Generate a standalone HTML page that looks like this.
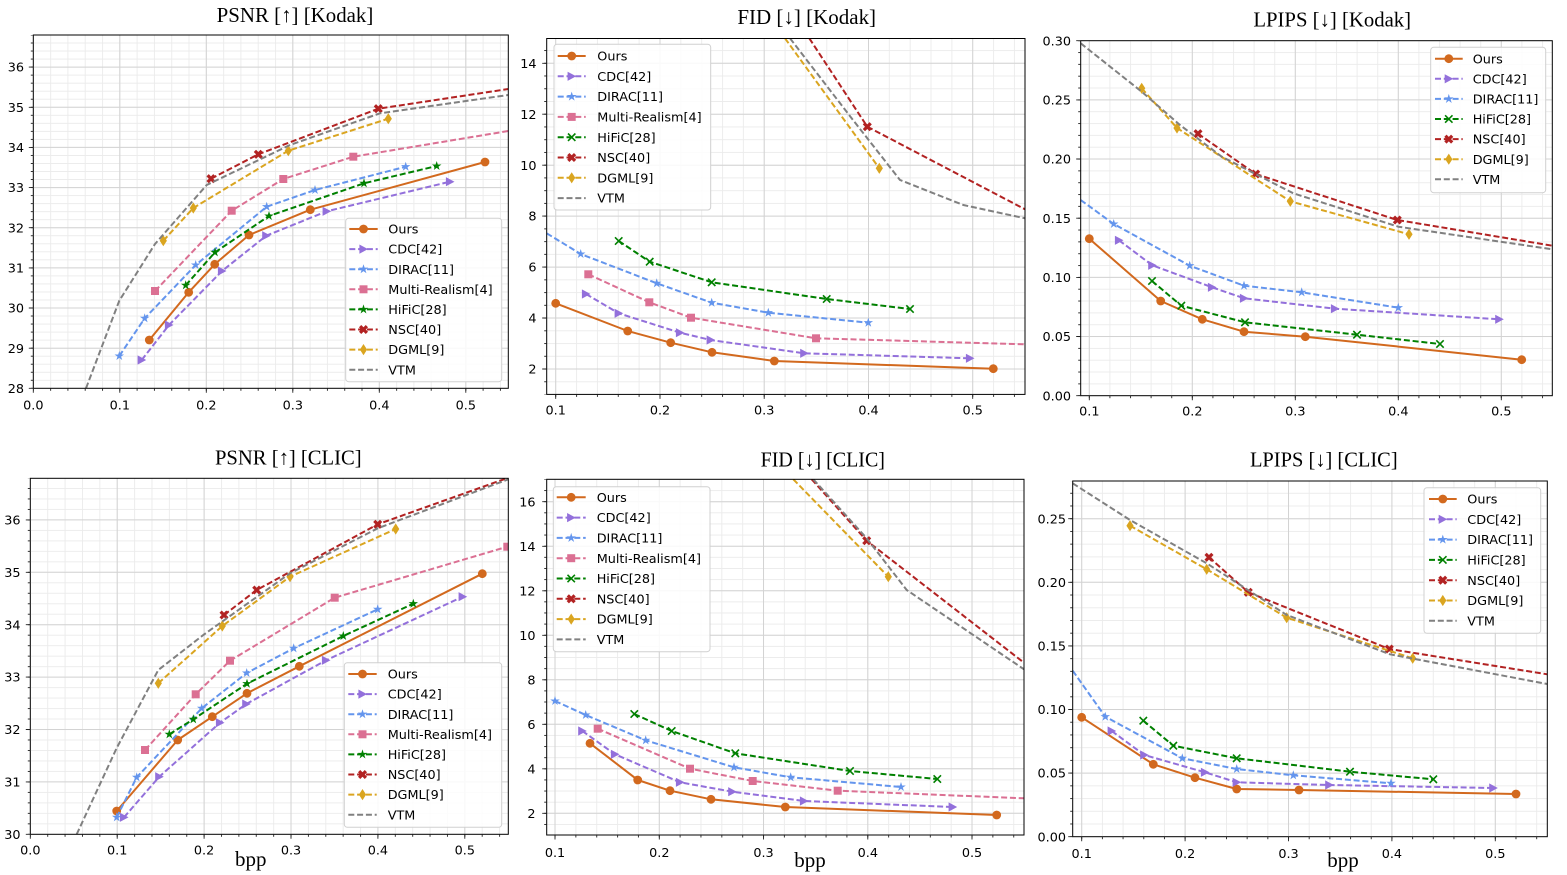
<!DOCTYPE html>
<html><head><meta charset="utf-8">
<style>
html,body{margin:0;padding:0;background:#fff;}
svg{display:block}
.t{font-family:"DejaVu Sans","Liberation Sans",sans-serif;font-size:12.8px;fill:#000}
.ti{font-family:"Liberation Serif","DejaVu Serif",serif;font-size:21px;fill:#000}
.xl{font-family:"Liberation Serif","DejaVu Serif",serif;font-size:21px;fill:#000}
.mg{fill:none;stroke:#d3d3d3;stroke-width:1}
.fr{fill:none;stroke:#000;stroke-width:1}
.tk{fill:none;stroke:#222;stroke-width:0.9}
.s{fill:none;stroke-width:2;stroke-linejoin:round}
.d{stroke-dasharray:6 2.8}
.lb{fill:#fff;fill-opacity:0.85;stroke:#d0d0d0;stroke-width:1}
</style></head><body>
<svg width="1567" height="875" viewBox="0 0 1567 875" xmlns="http://www.w3.org/2000/svg">
<defs>
<circle id="mo" r="4.4" fill="#D2691E"/>
<polygon id="mc" points="4.5,0 -4.1,-4.6 -4.1,4.6" fill="#9370DB"/>
<polygon id="md" points="0,-5 1.12,-1.54 4.76,-1.54 1.81,0.59 2.94,4.05 0,1.9 -2.94,4.05 -1.81,0.59 -4.76,-1.54 -1.12,-1.54" fill="#6495ED"/>
<rect id="mm" x="-4" y="-4" width="8" height="8" fill="#DB7093"/>
<polygon id="mh" points="0,-5 1.12,-1.54 4.76,-1.54 1.81,0.59 2.94,4.05 0,1.9 -2.94,4.05 -1.81,0.59 -4.76,-1.54 -1.12,-1.54" fill="#008000"/>
<path id="mx" d="M-3.7,-3.7L3.7,3.7M-3.7,3.7L3.7,-3.7" stroke="#008000" stroke-width="1.6" fill="none"/>
<polygon id="mn" transform="rotate(45)" points="-1.6,-4.8 1.6,-4.8 1.6,-1.6 4.8,-1.6 4.8,1.6 1.6,1.6 1.6,4.8 -1.6,4.8 -1.6,1.6 -4.8,1.6 -4.8,-1.6 -1.6,-1.6" fill="#B22222"/>
<polygon id="mg" points="0,-5.6 3.6,0 0,5.6 -3.6,0" fill="#DAA520"/>

<pattern id="g1" patternUnits="userSpaceOnUse" x="32.85" y="387.85" width="17.3" height="8.03"><rect width="0.9" height="8.03" fill="#ebebeb"/><rect width="17.3" height="0.9" fill="#ebebeb"/></pattern>
<pattern id="a1" patternUnits="userSpaceOnUse" x="32.85" y="0" width="17.3" height="900"><rect width="0.9" height="900" fill="#222"/></pattern>
<pattern id="b1" patternUnits="userSpaceOnUse" x="0" y="387.85" width="1600" height="8.03"><rect width="1600" height="0.9" fill="#222"/></pattern>

<pattern id="g2" patternUnits="userSpaceOnUse" x="555.25" y="368.55" width="20.85" height="12.74"><rect width="0.9" height="12.74" fill="#ebebeb"/><rect width="20.85" height="0.9" fill="#ebebeb"/></pattern>
<pattern id="a2" patternUnits="userSpaceOnUse" x="555.25" y="0" width="20.85" height="900"><rect width="0.9" height="900" fill="#222"/></pattern>
<pattern id="b2" patternUnits="userSpaceOnUse" x="0" y="368.55" width="1600" height="12.74"><rect width="1600" height="0.9" fill="#222"/></pattern>

<pattern id="g3" patternUnits="userSpaceOnUse" x="1088.85" y="395.25" width="20.6" height="11.834"><rect width="0.9" height="11.834" fill="#ebebeb"/><rect width="20.6" height="0.9" fill="#ebebeb"/></pattern>
<pattern id="a3" patternUnits="userSpaceOnUse" x="1088.85" y="0" width="20.6" height="900"><rect width="0.9" height="900" fill="#222"/></pattern>
<pattern id="b3" patternUnits="userSpaceOnUse" x="0" y="395.25" width="1600" height="11.834"><rect width="1600" height="0.9" fill="#222"/></pattern>

<pattern id="g4" patternUnits="userSpaceOnUse" x="29.85" y="833.85" width="17.38" height="10.48"><rect width="0.9" height="10.48" fill="#ebebeb"/><rect width="17.38" height="0.9" fill="#ebebeb"/></pattern>
<pattern id="a4" patternUnits="userSpaceOnUse" x="29.85" y="0" width="17.38" height="900"><rect width="0.9" height="900" fill="#222"/></pattern>
<pattern id="b4" patternUnits="userSpaceOnUse" x="0" y="833.85" width="1600" height="10.48"><rect width="1600" height="0.9" fill="#222"/></pattern>

<pattern id="g5" patternUnits="userSpaceOnUse" x="554.55" y="812.85" width="20.85" height="11.13"><rect width="0.9" height="11.13" fill="#ebebeb"/><rect width="20.85" height="0.9" fill="#ebebeb"/></pattern>
<pattern id="a5" patternUnits="userSpaceOnUse" x="554.55" y="0" width="20.85" height="900"><rect width="0.9" height="900" fill="#222"/></pattern>
<pattern id="b5" patternUnits="userSpaceOnUse" x="0" y="812.85" width="1600" height="11.13"><rect width="1600" height="0.9" fill="#222"/></pattern>

<pattern id="g6" patternUnits="userSpaceOnUse" x="1081.25" y="836.25" width="20.68" height="12.72"><rect width="0.9" height="12.72" fill="#ebebeb"/><rect width="20.68" height="0.9" fill="#ebebeb"/></pattern>
<pattern id="a6" patternUnits="userSpaceOnUse" x="1081.25" y="0" width="20.68" height="900"><rect width="0.9" height="900" fill="#222"/></pattern>
<pattern id="b6" patternUnits="userSpaceOnUse" x="0" y="836.25" width="1600" height="12.72"><rect width="1600" height="0.9" fill="#222"/></pattern>

<clipPath id="c1"><rect x="33.3" y="35" width="475" height="353.3"/></clipPath>
<clipPath id="c2"><rect x="546.7" y="38.5" width="478.3" height="355.9"/></clipPath>
<clipPath id="c3"><rect x="1080.7" y="40.7" width="471.6" height="355"/></clipPath>
<clipPath id="c4"><rect x="30.3" y="478.3" width="478" height="356"/></clipPath>
<clipPath id="c5"><rect x="546.7" y="479.3" width="477.3" height="355.7"/></clipPath>
<clipPath id="c6"><rect x="1072.7" y="481" width="474.6" height="355.7"/></clipPath>
</defs>

<rect width="1567" height="875" fill="#fff"/>

<!-- ================= PANEL 1: PSNR Kodak ================= -->
<rect x="33.3" y="35" width="475" height="353.3" fill="url(#g1)"/>
<path class="mg" d="M119.8 35V388.3M206.3 35V388.3M292.8 35V388.3M379.3 35V388.3M465.8 35V388.3M33.3 348.2H508.3M33.3 308H508.3M33.3 267.9H508.3M33.3 227.7H508.3M33.3 187.6H508.3M33.3 147.4H508.3M33.3 107.3H508.3M33.3 67.1H508.3"/>
<g clip-path="url(#c1)">
<polyline class="s" stroke="#D2691E" points="149.3,340 188.7,292.3 214.7,264.3 249,235 310.3,209.7 485,162"/>
<use href="#mo" x="149.3" y="340"/><use href="#mo" x="188.7" y="292.3"/><use href="#mo" x="214.7" y="264.3"/><use href="#mo" x="249" y="235"/><use href="#mo" x="310.3" y="209.7"/><use href="#mo" x="485" y="162"/>
<polyline class="s d" stroke="#9370DB" points="141.7,360 169,325 222,271 266.3,235.7 326.7,211.3 450,181.7"/>
<use href="#mc" x="141.7" y="360"/><use href="#mc" x="169" y="325"/><use href="#mc" x="222" y="271"/><use href="#mc" x="266.3" y="235.7"/><use href="#mc" x="326.7" y="211.3"/><use href="#mc" x="450" y="181.7"/>
<polyline class="s d" stroke="#6495ED" points="119.3,356 144.7,318.3 195.7,265 266.7,206.7 315,190 405.7,166.7"/>
<use href="#md" x="119.3" y="356"/><use href="#md" x="144.7" y="318.3"/><use href="#md" x="195.7" y="265"/><use href="#md" x="266.7" y="206.7"/><use href="#md" x="315" y="190"/><use href="#md" x="405.7" y="166.7"/>
<polyline class="s d" stroke="#DB7093" points="155,291 231.7,210.7 283.3,179 353.3,156.7 508.3,131"/>
<use href="#mm" x="155" y="291"/><use href="#mm" x="231.7" y="210.7"/><use href="#mm" x="283.3" y="179"/><use href="#mm" x="353.3" y="156.7"/>
<polyline class="s d" stroke="#008000" points="185.7,285.3 215,252.3 269,216 364,183.3 436.7,166"/>
<use href="#mh" x="185.7" y="285.3"/><use href="#mh" x="215" y="252.3"/><use href="#mh" x="269" y="216"/><use href="#mh" x="364" y="183.3"/><use href="#mh" x="436.7" y="166"/>
<polyline class="s d" stroke="#B22222" points="211,178.7 258.3,154.3 378.3,108.7 508.3,89"/>
<use href="#mn" x="211" y="178.7"/><use href="#mn" x="258.3" y="154.3"/><use href="#mn" x="378.3" y="108.7"/>
<polyline class="s d" stroke="#DAA520" points="163.3,240.7 193.3,208 288.3,150.7 388.3,118.7"/>
<use href="#mg" x="163.3" y="240.7"/><use href="#mg" x="193.3" y="208"/><use href="#mg" x="288.3" y="150.7"/><use href="#mg" x="388.3" y="118.7"/>
<polyline class="s d" stroke="#808080" points="86,388.3 119.3,300.7 155,244 206.7,185 290,145 380,113.3 508.3,95"/>
</g>
<rect class="fr" x="33.3" y="35" width="475" height="353.3"/>
<rect x="33.3" y="388.3" width="475" height="2.5" fill="url(#a1)"/>
<rect x="30.8" y="35" width="2.5" height="353.3" fill="url(#b1)"/>
<path class="tk" d="M33.3 388.3v4.5M119.8 388.3v4.5M206.3 388.3v4.5M292.8 388.3v4.5M379.3 388.3v4.5M465.8 388.3v4.5M33.3 388.3h-4.5M33.3 348.2h-4.5M33.3 308h-4.5M33.3 267.9h-4.5M33.3 227.7h-4.5M33.3 187.6h-4.5M33.3 147.4h-4.5M33.3 107.3h-4.5M33.3 67.1h-4.5"/>
<g class="t" text-anchor="middle">
<text x="33.3" y="409.7">0.0</text><text x="119.8" y="409.7">0.1</text><text x="206.3" y="409.7">0.2</text><text x="292.8" y="409.7">0.3</text><text x="379.3" y="409.7">0.4</text><text x="465.8" y="409.7">0.5</text>
</g>
<g class="t" text-anchor="end">
<text x="24" y="392.9">28</text><text x="24" y="352.8">29</text><text x="24" y="312.6">30</text><text x="24" y="272.5">31</text><text x="24" y="232.3">32</text><text x="24" y="192.2">33</text><text x="24" y="152">34</text><text x="24" y="111.9">35</text><text x="24" y="71.7">36</text>
</g>
<rect class="lb" x="345.7" y="218.3" width="156" height="163.4" rx="3"/>
<line class="s" stroke="#D2691E" x1="349.3" x2="377.7" y1="229" y2="229"/><use href="#mo" x="363.5" y="229"/>
<line class="s d" stroke="#9370DB" x1="349.3" x2="377.7" y1="249.1" y2="249.1"/><use href="#mc" x="363.5" y="249.1"/>
<line class="s d" stroke="#6495ED" x1="349.3" x2="377.7" y1="269.2" y2="269.2"/><use href="#md" x="363.5" y="269.2"/>
<line class="s d" stroke="#DB7093" x1="349.3" x2="377.7" y1="289.3" y2="289.3"/><use href="#mm" x="363.5" y="289.3"/>
<line class="s d" stroke="#008000" x1="349.3" x2="377.7" y1="309.4" y2="309.4"/><use href="#mh" x="363.5" y="309.4"/>
<line class="s d" stroke="#B22222" x1="349.3" x2="377.7" y1="329.5" y2="329.5"/><use href="#mn" x="363.5" y="329.5"/>
<line class="s d" stroke="#DAA520" x1="349.3" x2="377.7" y1="349.6" y2="349.6"/><use href="#mg" x="363.5" y="349.6"/>
<line class="s d" stroke="#808080" x1="349.3" x2="377.7" y1="369.7" y2="369.7"/>
<g class="t">
<text x="388.3" y="233.6">Ours</text><text x="388.3" y="253.7">CDC[42]</text><text x="388.3" y="273.8">DIRAC[11]</text><text x="388.3" y="293.9">Multi-Realism[4]</text><text x="388.3" y="314">HiFiC[28]</text><text x="388.3" y="334.1">NSC[40]</text><text x="388.3" y="354.2">DGML[9]</text><text x="388.3" y="374.3">VTM</text>
</g>
<text class="ti" x="295" y="22" text-anchor="middle" textLength="156.7" lengthAdjust="spacingAndGlyphs">PSNR [↑] [Kodak]</text>

<!-- ================= PANEL 2: FID Kodak ================= -->
<rect x="546.7" y="38.5" width="478.3" height="355.9" fill="url(#g2)"/>
<path class="mg" d="M555.7 38.5V394.4M660 38.5V394.4M764.2 38.5V394.4M868.5 38.5V394.4M972.7 38.5V394.4M546.7 369H1025M546.7 318H1025M546.7 267.1H1025M546.7 216.1H1025M546.7 165.2H1025M546.7 114.2H1025M546.7 63.3H1025"/>
<g clip-path="url(#c2)">
<polyline class="s" stroke="#D2691E" points="555.7,303.3 627.7,331 670.7,342.7 712,352.3 774.3,361 993.3,368.7"/>
<use href="#mo" x="555.7" y="303.3"/><use href="#mo" x="627.7" y="331"/><use href="#mo" x="670.7" y="342.7"/><use href="#mo" x="712" y="352.3"/><use href="#mo" x="774.3" y="361"/><use href="#mo" x="993.3" y="368.7"/>
<polyline class="s d" stroke="#9370DB" points="586,294 618.7,313.3 680,332.7 710.7,340 804.3,353.3 970,358.3"/>
<use href="#mc" x="586" y="294"/><use href="#mc" x="618.7" y="313.3"/><use href="#mc" x="680" y="332.7"/><use href="#mc" x="710.7" y="340"/><use href="#mc" x="804.3" y="353.3"/><use href="#mc" x="970" y="358.3"/>
<polyline class="s d" stroke="#6495ED" points="546.7,233.3 580.7,254 656.7,283.3 711.7,302.7 768.3,312.7 868.3,322.7"/>
<use href="#md" x="580.7" y="254"/><use href="#md" x="656.7" y="283.3"/><use href="#md" x="711.7" y="302.7"/><use href="#md" x="768.3" y="312.7"/><use href="#md" x="868.3" y="322.7"/>
<polyline class="s d" stroke="#DB7093" points="588.3,274.3 649.3,302.3 691,317.7 816,338.3 1025,344.3"/>
<use href="#mm" x="588.3" y="274.3"/><use href="#mm" x="649.3" y="302.3"/><use href="#mm" x="691" y="317.7"/><use href="#mm" x="816" y="338.3"/>
<polyline class="s d" stroke="#008000" points="618.7,241 649.7,261.7 711.7,282.3 826.7,299 910,309"/>
<use href="#mx" x="618.7" y="241"/><use href="#mx" x="649.7" y="261.7"/><use href="#mx" x="711.7" y="282.3"/><use href="#mx" x="826.7" y="299"/><use href="#mx" x="910" y="309"/>
<polyline class="s d" stroke="#B22222" points="809.3,38.3 867.3,126.7 1025,209.3"/>
<use href="#mn" x="867.3" y="126.7"/>
<polyline class="s d" stroke="#DAA520" points="785,38.3 879.3,168.3"/>
<use href="#mg" x="879.3" y="168.3"/>
<polyline class="s d" stroke="#808080" points="790,38.3 853,120 900,180 963.3,205 1025,218.3"/>
</g>
<rect class="fr" x="546.7" y="38.5" width="478.3" height="355.9"/>
<rect x="546.7" y="394.4" width="478.3" height="2.5" fill="url(#a2)"/>
<rect x="544.2" y="38.5" width="2.5" height="355.9" fill="url(#b2)"/>
<path class="tk" d="M555.7 394.4v4.5M660 394.4v4.5M764.2 394.4v4.5M868.5 394.4v4.5M972.7 394.4v4.5M546.7 369h-4.5M546.7 318h-4.5M546.7 267.1h-4.5M546.7 216.1h-4.5M546.7 165.2h-4.5M546.7 114.2h-4.5M546.7 63.3h-4.5"/>
<g class="t" text-anchor="middle">
<text x="555.7" y="414.6">0.1</text><text x="660" y="414.6">0.2</text><text x="764.2" y="414.6">0.3</text><text x="868.5" y="414.6">0.4</text><text x="972.7" y="414.6">0.5</text>
</g>
<g class="t" text-anchor="end">
<text x="536.5" y="373.6">2</text><text x="536.5" y="322.6">4</text><text x="536.5" y="271.7">6</text><text x="536.5" y="220.7">8</text><text x="536.5" y="169.8">10</text><text x="536.5" y="118.8">12</text><text x="536.5" y="67.9">14</text>
</g>
<rect class="lb" x="554" y="44.3" width="156.7" height="165.7" rx="3"/>
<line class="s" stroke="#D2691E" x1="557.7" x2="585.7" y1="56" y2="56"/><use href="#mo" x="571.7" y="56"/>
<line class="s d" stroke="#9370DB" x1="557.7" x2="585.7" y1="76.3" y2="76.3"/><use href="#mc" x="571.7" y="76.3"/>
<line class="s d" stroke="#6495ED" x1="557.7" x2="585.7" y1="96.6" y2="96.6"/><use href="#md" x="571.7" y="96.6"/>
<line class="s d" stroke="#DB7093" x1="557.7" x2="585.7" y1="116.9" y2="116.9"/><use href="#mm" x="571.7" y="116.9"/>
<line class="s d" stroke="#008000" x1="557.7" x2="585.7" y1="137.2" y2="137.2"/><use href="#mx" x="571.7" y="137.2"/>
<line class="s d" stroke="#B22222" x1="557.7" x2="585.7" y1="157.5" y2="157.5"/><use href="#mn" x="571.7" y="157.5"/>
<line class="s d" stroke="#DAA520" x1="557.7" x2="585.7" y1="177.8" y2="177.8"/><use href="#mg" x="571.7" y="177.8"/>
<line class="s d" stroke="#808080" x1="557.7" x2="585.7" y1="198.1" y2="198.1"/>
<g class="t">
<text x="597.3" y="60.6">Ours</text><text x="597.3" y="80.9">CDC[42]</text><text x="597.3" y="101.2">DIRAC[11]</text><text x="597.3" y="121.5">Multi-Realism[4]</text><text x="597.3" y="141.8">HiFiC[28]</text><text x="597.3" y="162.1">NSC[40]</text><text x="597.3" y="182.4">DGML[9]</text><text x="597.3" y="202.7">VTM</text>
</g>
<text class="ti" x="806.7" y="24" text-anchor="middle" textLength="138.7" lengthAdjust="spacingAndGlyphs">FID [↓] [Kodak]</text>

<!-- ================= PANEL 3: LPIPS Kodak ================= -->
<rect x="1080.7" y="40.7" width="471.6" height="355" fill="url(#g3)"/>
<path class="mg" d="M1089.3 40.7V395.7M1192.3 40.7V395.7M1295.3 40.7V395.7M1398.3 40.7V395.7M1501.3 40.7V395.7M1080.7 336.5H1552.3M1080.7 277.4H1552.3M1080.7 218.2H1552.3M1080.7 159H1552.3M1080.7 99.9H1552.3"/>
<g clip-path="url(#c3)">
<polyline class="s" stroke="#D2691E" points="1089.3,238.7 1160.7,301 1202.3,319.3 1244,331.7 1305.3,336.7 1521.7,359.7"/>
<use href="#mo" x="1089.3" y="238.7"/><use href="#mo" x="1160.7" y="301"/><use href="#mo" x="1202.3" y="319.3"/><use href="#mo" x="1244" y="331.7"/><use href="#mo" x="1305.3" y="336.7"/><use href="#mo" x="1521.7" y="359.7"/>
<polyline class="s d" stroke="#9370DB" points="1119,240.3 1152.3,265.3 1212,287.3 1244,298.3 1335,308.7 1499.3,319.3"/>
<use href="#mc" x="1119" y="240.3"/><use href="#mc" x="1152.3" y="265.3"/><use href="#mc" x="1212" y="287.3"/><use href="#mc" x="1244" y="298.3"/><use href="#mc" x="1335" y="308.7"/><use href="#mc" x="1499.3" y="319.3"/>
<polyline class="s d" stroke="#6495ED" points="1080.7,200 1113.7,224 1189.7,265.7 1244,285.7 1301.7,292.3 1398.3,307.7"/>
<use href="#md" x="1113.7" y="224"/><use href="#md" x="1189.7" y="265.7"/><use href="#md" x="1244" y="285.7"/><use href="#md" x="1301.7" y="292.3"/><use href="#md" x="1398.3" y="307.7"/>
<polyline class="s d" stroke="#008000" points="1152,281 1181.3,305.7 1245,322.3 1357,334.7 1440,344"/>
<use href="#mx" x="1152" y="281"/><use href="#mx" x="1181.3" y="305.7"/><use href="#mx" x="1245" y="322.3"/><use href="#mx" x="1357" y="334.7"/><use href="#mx" x="1440" y="344"/>
<polyline class="s d" stroke="#B22222" points="1198,133.7 1255.7,174 1397.3,220 1552.3,245.7"/>
<use href="#mn" x="1198" y="133.7"/><use href="#mn" x="1255.7" y="174"/><use href="#mn" x="1397.3" y="220"/>
<polyline class="s d" stroke="#DAA520" points="1141.7,88.3 1177,128 1290.3,201.3 1409,234.3"/>
<use href="#mg" x="1141.7" y="88.3"/><use href="#mg" x="1177" y="128"/><use href="#mg" x="1290.3" y="201.3"/><use href="#mg" x="1409" y="234.3"/>
<polyline class="s d" stroke="#808080" points="1080.7,43.3 1141.7,91.7 1180,125 1221.7,156.7 1293.3,193.3 1398.3,226.7 1552.3,249.3"/>
</g>
<rect class="fr" x="1080.7" y="40.7" width="471.6" height="355"/>
<rect x="1080.7" y="395.7" width="471.6" height="2.5" fill="url(#a3)"/>
<rect x="1078.2" y="40.7" width="2.5" height="355" fill="url(#b3)"/>
<path class="tk" d="M1089.3 395.7v4.5M1192.3 395.7v4.5M1295.3 395.7v4.5M1398.3 395.7v4.5M1501.3 395.7v4.5M1080.7 395.7h-4.5M1080.7 336.5h-4.5M1080.7 277.4h-4.5M1080.7 218.2h-4.5M1080.7 159h-4.5M1080.7 99.9h-4.5M1080.7 40.7h-4.5"/>
<g class="t" text-anchor="middle">
<text x="1089.3" y="415.3">0.1</text><text x="1192.3" y="415.3">0.2</text><text x="1295.3" y="415.3">0.3</text><text x="1398.3" y="415.3">0.4</text><text x="1501.3" y="415.3">0.5</text>
</g>
<g class="t" text-anchor="end">
<text x="1071" y="400.3">0.00</text><text x="1071" y="341.1">0.05</text><text x="1071" y="282">0.10</text><text x="1071" y="222.8">0.15</text><text x="1071" y="163.6">0.20</text><text x="1071" y="104.5">0.25</text><text x="1071" y="45.3">0.30</text>
</g>
<rect class="lb" x="1430.7" y="47.3" width="115" height="145.4" rx="3"/>
<line class="s" stroke="#D2691E" x1="1435" x2="1462.7" y1="58.7" y2="58.7"/><use href="#mo" x="1448.8" y="58.7"/>
<line class="s d" stroke="#9370DB" x1="1435" x2="1462.7" y1="78.8" y2="78.8"/><use href="#mc" x="1448.8" y="78.8"/>
<line class="s d" stroke="#6495ED" x1="1435" x2="1462.7" y1="98.9" y2="98.9"/><use href="#md" x="1448.8" y="98.9"/>
<line class="s d" stroke="#008000" x1="1435" x2="1462.7" y1="119" y2="119"/><use href="#mx" x="1448.8" y="119"/>
<line class="s d" stroke="#B22222" x1="1435" x2="1462.7" y1="139.1" y2="139.1"/><use href="#mn" x="1448.8" y="139.1"/>
<line class="s d" stroke="#DAA520" x1="1435" x2="1462.7" y1="159.2" y2="159.2"/><use href="#mg" x="1448.8" y="159.2"/>
<line class="s d" stroke="#808080" x1="1435" x2="1462.7" y1="179.3" y2="179.3"/>
<g class="t">
<text x="1472.7" y="63.3">Ours</text><text x="1472.7" y="83.4">CDC[42]</text><text x="1472.7" y="103.5">DIRAC[11]</text><text x="1472.7" y="123.6">HiFiC[28]</text><text x="1472.7" y="143.7">NSC[40]</text><text x="1472.7" y="163.8">DGML[9]</text><text x="1472.7" y="183.9">VTM</text>
</g>
<text class="ti" x="1332.2" y="26.7" text-anchor="middle" textLength="157.7" lengthAdjust="spacingAndGlyphs">LPIPS [↓] [Kodak]</text>

<!-- ================= PANEL 4: PSNR CLIC ================= -->
<rect x="30.3" y="478.3" width="478" height="356" fill="url(#g4)"/>
<path class="mg" d="M117.2 478.3V834.3M204.1 478.3V834.3M291 478.3V834.3M377.9 478.3V834.3M464.8 478.3V834.3M30.3 781.9H508.3M30.3 729.5H508.3M30.3 677.1H508.3M30.3 624.7H508.3M30.3 572.3H508.3M30.3 519.9H508.3"/>
<g clip-path="url(#c4)">
<polyline class="s" stroke="#D2691E" points="116.7,811 177.7,740 212.3,716.7 247,693.3 299.3,666.3 482.3,573.7"/>
<use href="#mo" x="116.7" y="811"/><use href="#mo" x="177.7" y="740"/><use href="#mo" x="212.3" y="716.7"/><use href="#mo" x="247" y="693.3"/><use href="#mo" x="299.3" y="666.3"/><use href="#mo" x="482.3" y="573.7"/>
<polyline class="s d" stroke="#9370DB" points="124,817.3 159.3,776.7 220,722.7 246.3,704 326,660.3 462.7,596.7"/>
<use href="#mc" x="124" y="817.3"/><use href="#mc" x="159.3" y="776.7"/><use href="#mc" x="220" y="722.7"/><use href="#mc" x="246.3" y="704"/><use href="#mc" x="326" y="660.3"/><use href="#mc" x="462.7" y="596.7"/>
<polyline class="s d" stroke="#6495ED" points="116.7,817.3 136.7,777.3 201.7,708.3 246.7,673 293.7,648.3 377.7,609.3"/>
<use href="#md" x="116.7" y="817.3"/><use href="#md" x="136.7" y="777.3"/><use href="#md" x="201.7" y="708.3"/><use href="#md" x="246.7" y="673"/><use href="#md" x="293.7" y="648.3"/><use href="#md" x="377.7" y="609.3"/>
<polyline class="s d" stroke="#DB7093" points="145,750 195.7,694.3 230,660.7 334.7,597.7 507.3,546.7"/>
<use href="#mm" x="145" y="750"/><use href="#mm" x="195.7" y="694.3"/><use href="#mm" x="230" y="660.7"/><use href="#mm" x="334.7" y="597.7"/><use href="#mm" x="507.3" y="546.7"/>
<polyline class="s d" stroke="#008000" points="169.3,734.3 193.3,719.3 247,683.7 343.3,636 413.3,603.7"/>
<use href="#mh" x="169.3" y="734.3"/><use href="#mh" x="193.3" y="719.3"/><use href="#mh" x="247" y="683.7"/><use href="#mh" x="343.3" y="636"/><use href="#mh" x="413.3" y="603.7"/>
<polyline class="s d" stroke="#B22222" points="224,615 256.7,590 377.7,524.3 508.3,477.7"/>
<use href="#mn" x="224" y="615"/><use href="#mn" x="256.7" y="590"/><use href="#mn" x="377.7" y="524.3"/>
<polyline class="s d" stroke="#DAA520" points="158.3,683.3 222.3,626 290,576.7 395.7,529"/>
<use href="#mg" x="158.3" y="683.3"/><use href="#mg" x="222.3" y="626"/><use href="#mg" x="290" y="576.7"/><use href="#mg" x="395.7" y="529"/>
<polyline class="s d" stroke="#808080" points="76.7,834.3 116.7,748 158.3,670 203.3,635 290,573.3 377.7,528.3 508.3,479.3"/>
</g>
<rect class="fr" x="30.3" y="478.3" width="478" height="356"/>
<rect x="30.3" y="834.3" width="478" height="2.5" fill="url(#a4)"/>
<rect x="27.8" y="478.3" width="2.5" height="356" fill="url(#b4)"/>
<path class="tk" d="M30.3 834.3v4.5M117.2 834.3v4.5M204.1 834.3v4.5M291 834.3v4.5M377.9 834.3v4.5M464.8 834.3v4.5M30.3 834.3h-4.5M30.3 781.9h-4.5M30.3 729.5h-4.5M30.3 677.1h-4.5M30.3 624.7h-4.5M30.3 572.3h-4.5M30.3 519.9h-4.5"/>
<g class="t" text-anchor="middle">
<text x="30.3" y="854.6">0.0</text><text x="117.2" y="854.6">0.1</text><text x="204.1" y="854.6">0.2</text><text x="291" y="854.6">0.3</text><text x="377.9" y="854.6">0.4</text><text x="464.8" y="854.6">0.5</text>
</g>
<g class="t" text-anchor="end">
<text x="20.5" y="838.9">30</text><text x="20.5" y="786.5">31</text><text x="20.5" y="734.1">32</text><text x="20.5" y="681.7">33</text><text x="20.5" y="629.3">34</text><text x="20.5" y="576.9">35</text><text x="20.5" y="524.5">36</text>
</g>
<rect class="lb" x="344.3" y="662.7" width="157.4" height="164.6" rx="3"/>
<line class="s" stroke="#D2691E" x1="348.3" x2="376.7" y1="674" y2="674"/><use href="#mo" x="362.5" y="674"/>
<line class="s d" stroke="#9370DB" x1="348.3" x2="376.7" y1="694.1" y2="694.1"/><use href="#mc" x="362.5" y="694.1"/>
<line class="s d" stroke="#6495ED" x1="348.3" x2="376.7" y1="714.2" y2="714.2"/><use href="#md" x="362.5" y="714.2"/>
<line class="s d" stroke="#DB7093" x1="348.3" x2="376.7" y1="734.3" y2="734.3"/><use href="#mm" x="362.5" y="734.3"/>
<line class="s d" stroke="#008000" x1="348.3" x2="376.7" y1="754.4" y2="754.4"/><use href="#mh" x="362.5" y="754.4"/>
<line class="s d" stroke="#B22222" x1="348.3" x2="376.7" y1="774.5" y2="774.5"/><use href="#mn" x="362.5" y="774.5"/>
<line class="s d" stroke="#DAA520" x1="348.3" x2="376.7" y1="794.6" y2="794.6"/><use href="#mg" x="362.5" y="794.6"/>
<line class="s d" stroke="#808080" x1="348.3" x2="376.7" y1="814.7" y2="814.7"/>
<g class="t">
<text x="387.7" y="678.6">Ours</text><text x="387.7" y="698.7">CDC[42]</text><text x="387.7" y="718.8">DIRAC[11]</text><text x="387.7" y="738.9">Multi-Realism[4]</text><text x="387.7" y="759">HiFiC[28]</text><text x="387.7" y="779.1">NSC[40]</text><text x="387.7" y="799.2">DGML[9]</text><text x="387.7" y="819.3">VTM</text>
</g>
<text class="ti" x="288.3" y="464.3" text-anchor="middle" textLength="146.7" lengthAdjust="spacingAndGlyphs">PSNR [↑] [CLIC]</text>
<text class="xl" x="250.8" y="866" text-anchor="middle">bpp</text>

<!-- ================= PANEL 5: FID CLIC ================= -->
<rect x="546.7" y="479.3" width="477.3" height="355.7" fill="url(#g5)"/>
<path class="mg" d="M555 479.3V835M659.3 479.3V835M763.5 479.3V835M867.8 479.3V835M972 479.3V835M546.7 813.3H1024M546.7 768.8H1024M546.7 724.3H1024M546.7 679.8H1024M546.7 635.3H1024M546.7 590.8H1024M546.7 546.3H1024M546.7 501.7H1024"/>
<g clip-path="url(#c5)">
<polyline class="s" stroke="#D2691E" points="590,743.3 637.7,780 670,790.7 711,799.3 785.3,807 996.7,815"/>
<use href="#mo" x="590" y="743.3"/><use href="#mo" x="637.7" y="780"/><use href="#mo" x="670" y="790.7"/><use href="#mo" x="711" y="799.3"/><use href="#mo" x="785.3" y="807"/><use href="#mo" x="996.7" y="815"/>
<polyline class="s d" stroke="#9370DB" points="582.3,731 615,754.3 680,782.3 732.3,791.7 804,801 952.7,807"/>
<use href="#mc" x="582.3" y="731"/><use href="#mc" x="615" y="754.3"/><use href="#mc" x="680" y="782.3"/><use href="#mc" x="732.3" y="791.7"/><use href="#mc" x="804" y="801"/><use href="#mc" x="952.7" y="807"/>
<polyline class="s d" stroke="#6495ED" points="555,701 585.7,715 645.7,740.3 734,767.3 790.7,777.3 901,787"/>
<use href="#md" x="555" y="701"/><use href="#md" x="585.7" y="715"/><use href="#md" x="645.7" y="740.3"/><use href="#md" x="734" y="767.3"/><use href="#md" x="790.7" y="777.3"/><use href="#md" x="901" y="787"/>
<polyline class="s d" stroke="#DB7093" points="597.7,728.7 690,768.7 752.7,781 837.7,790.7 1024,798.3"/>
<use href="#mm" x="597.7" y="728.7"/><use href="#mm" x="690" y="768.7"/><use href="#mm" x="752.7" y="781"/><use href="#mm" x="837.7" y="790.7"/>
<polyline class="s d" stroke="#008000" points="634.3,714 671.7,731 735.3,753.3 850,771 937.3,779"/>
<use href="#mx" x="634.3" y="714"/><use href="#mx" x="671.7" y="731"/><use href="#mx" x="735.3" y="753.3"/><use href="#mx" x="850" y="771"/><use href="#mx" x="937.3" y="779"/>
<polyline class="s d" stroke="#B22222" points="811.7,479.3 866.7,540.7 1024,662.7"/>
<use href="#mn" x="866.7" y="540.7"/>
<polyline class="s d" stroke="#DAA520" points="793.3,479.3 888.3,576.7"/>
<use href="#mg" x="888.3" y="576.7"/>
<polyline class="s d" stroke="#808080" points="813.3,479.3 866.7,538.3 906.7,590 1024,669.3"/>
</g>
<rect class="fr" x="546.7" y="479.3" width="477.3" height="355.7"/>
<rect x="546.7" y="835" width="477.3" height="2.5" fill="url(#a5)"/>
<rect x="544.2" y="479.3" width="2.5" height="355.7" fill="url(#b5)"/>
<path class="tk" d="M555 835v4.5M659.3 835v4.5M763.5 835v4.5M867.8 835v4.5M972 835v4.5M546.7 813.3h-4.5M546.7 768.8h-4.5M546.7 724.3h-4.5M546.7 679.8h-4.5M546.7 635.3h-4.5M546.7 590.8h-4.5M546.7 546.3h-4.5M546.7 501.7h-4.5"/>
<g class="t" text-anchor="middle">
<text x="555" y="856.9">0.1</text><text x="659.3" y="856.9">0.2</text><text x="763.5" y="856.9">0.3</text><text x="867.8" y="856.9">0.4</text><text x="972" y="856.9">0.5</text>
</g>
<g class="t" text-anchor="end">
<text x="535.5" y="817.9">2</text><text x="535.5" y="773.4">4</text><text x="535.5" y="728.9">6</text><text x="535.5" y="684.4">8</text><text x="535.5" y="639.9">10</text><text x="535.5" y="595.4">12</text><text x="535.5" y="550.9">14</text><text x="535.5" y="506.3">16</text>
</g>
<rect class="lb" x="553.3" y="486.7" width="156.7" height="165" rx="3"/>
<line class="s" stroke="#D2691E" x1="556.7" x2="585.7" y1="497.3" y2="497.3"/><use href="#mo" x="571.2" y="497.3"/>
<line class="s d" stroke="#9370DB" x1="556.7" x2="585.7" y1="517.6" y2="517.6"/><use href="#mc" x="571.2" y="517.6"/>
<line class="s d" stroke="#6495ED" x1="556.7" x2="585.7" y1="537.9" y2="537.9"/><use href="#md" x="571.2" y="537.9"/>
<line class="s d" stroke="#DB7093" x1="556.7" x2="585.7" y1="558.2" y2="558.2"/><use href="#mm" x="571.2" y="558.2"/>
<line class="s d" stroke="#008000" x1="556.7" x2="585.7" y1="578.5" y2="578.5"/><use href="#mx" x="571.2" y="578.5"/>
<line class="s d" stroke="#B22222" x1="556.7" x2="585.7" y1="598.8" y2="598.8"/><use href="#mn" x="571.2" y="598.8"/>
<line class="s d" stroke="#DAA520" x1="556.7" x2="585.7" y1="619.1" y2="619.1"/><use href="#mg" x="571.2" y="619.1"/>
<line class="s d" stroke="#808080" x1="556.7" x2="585.7" y1="639.4" y2="639.4"/>
<g class="t">
<text x="596.7" y="501.9">Ours</text><text x="596.7" y="522.2">CDC[42]</text><text x="596.7" y="542.5">DIRAC[11]</text><text x="596.7" y="562.8">Multi-Realism[4]</text><text x="596.7" y="583.1">HiFiC[28]</text><text x="596.7" y="603.4">NSC[40]</text><text x="596.7" y="623.7">DGML[9]</text><text x="596.7" y="644">VTM</text>
</g>
<text class="ti" x="822.8" y="466.7" text-anchor="middle" textLength="124.3" lengthAdjust="spacingAndGlyphs">FID [↓] [CLIC]</text>
<text class="xl" x="810" y="867" text-anchor="middle">bpp</text>

<!-- ================= PANEL 6: LPIPS CLIC ================= -->
<rect x="1072.7" y="481" width="474.6" height="355.7" fill="url(#g6)"/>
<path class="mg" d="M1081.7 481V836.7M1185.1 481V836.7M1288.5 481V836.7M1391.9 481V836.7M1495.3 481V836.7M1072.7 773.1H1547.3M1072.7 709.5H1547.3M1072.7 645.9H1547.3M1072.7 582.3H1547.3M1072.7 518.7H1547.3"/>
<g clip-path="url(#c6)">
<polyline class="s" stroke="#D2691E" points="1081.7,717.3 1153.3,764.3 1195,777.7 1236.7,789 1299,790 1516,794"/>
<use href="#mo" x="1081.7" y="717.3"/><use href="#mo" x="1153.3" y="764.3"/><use href="#mo" x="1195" y="777.7"/><use href="#mo" x="1236.7" y="789"/><use href="#mo" x="1299" y="790"/><use href="#mo" x="1516" y="794"/>
<polyline class="s d" stroke="#9370DB" points="1111.7,731 1144.3,755 1205,772.3 1236.7,782.3 1329.3,785 1493.3,788"/>
<use href="#mc" x="1111.7" y="731"/><use href="#mc" x="1144.3" y="755"/><use href="#mc" x="1205" y="772.3"/><use href="#mc" x="1236.7" y="782.3"/><use href="#mc" x="1329.3" y="785"/><use href="#mc" x="1493.3" y="788"/>
<polyline class="s d" stroke="#6495ED" points="1072.7,670.7 1105.3,716.7 1182.3,758.3 1236.7,769 1293.3,775.3 1391,783.3"/>
<use href="#md" x="1105.3" y="716.7"/><use href="#md" x="1182.3" y="758.3"/><use href="#md" x="1236.7" y="769"/><use href="#md" x="1293.3" y="775.3"/><use href="#md" x="1391" y="783.3"/>
<polyline class="s d" stroke="#008000" points="1143.3,720.7 1173.3,745.7 1236.7,758.3 1350,771.7 1433.3,779.3"/>
<use href="#mx" x="1143.3" y="720.7"/><use href="#mx" x="1173.3" y="745.7"/><use href="#mx" x="1236.7" y="758.3"/><use href="#mx" x="1350" y="771.7"/><use href="#mx" x="1433.3" y="779.3"/>
<polyline class="s d" stroke="#B22222" points="1209,557.3 1248.3,592.3 1389.3,649 1547.3,674.3"/>
<use href="#mn" x="1209" y="557.3"/><use href="#mn" x="1248.3" y="592.3"/><use href="#mn" x="1389.3" y="649"/>
<polyline class="s d" stroke="#DAA520" points="1130,525.7 1206.7,569.3 1286.7,617.7 1412.7,658.3"/>
<use href="#mg" x="1130" y="525.7"/><use href="#mg" x="1206.7" y="569.3"/><use href="#mg" x="1286.7" y="617.7"/><use href="#mg" x="1412.7" y="658.3"/>
<polyline class="s d" stroke="#808080" points="1072.7,483.3 1130,520 1206.7,563.3 1286.7,615 1390,654.3 1547.3,684"/>
</g>
<rect class="fr" x="1072.7" y="481" width="474.6" height="355.7"/>
<rect x="1072.7" y="836.7" width="474.6" height="2.5" fill="url(#a6)"/>
<rect x="1070.2" y="481" width="2.5" height="355.7" fill="url(#b6)"/>
<path class="tk" d="M1081.7 836.7v4.5M1185.1 836.7v4.5M1288.5 836.7v4.5M1391.9 836.7v4.5M1495.3 836.7v4.5M1072.7 836.7h-4.5M1072.7 773.1h-4.5M1072.7 709.5h-4.5M1072.7 645.9h-4.5M1072.7 582.3h-4.5M1072.7 518.7h-4.5"/>
<g class="t" text-anchor="middle">
<text x="1081.7" y="857.9">0.1</text><text x="1185.1" y="857.9">0.2</text><text x="1288.5" y="857.9">0.3</text><text x="1391.9" y="857.9">0.4</text><text x="1495.3" y="857.9">0.5</text>
</g>
<g class="t" text-anchor="end">
<text x="1066" y="841.3">0.00</text><text x="1066" y="777.7">0.05</text><text x="1066" y="714.1">0.10</text><text x="1066" y="650.5">0.15</text><text x="1066" y="586.9">0.20</text><text x="1066" y="523.3">0.25</text>
</g>
<rect class="lb" x="1424" y="487.7" width="116.7" height="145.6" rx="3"/>
<line class="s" stroke="#D2691E" x1="1429" x2="1456.7" y1="499" y2="499"/><use href="#mo" x="1442.8" y="499"/>
<line class="s d" stroke="#9370DB" x1="1429" x2="1456.7" y1="519.3" y2="519.3"/><use href="#mc" x="1442.8" y="519.3"/>
<line class="s d" stroke="#6495ED" x1="1429" x2="1456.7" y1="539.6" y2="539.6"/><use href="#md" x="1442.8" y="539.6"/>
<line class="s d" stroke="#008000" x1="1429" x2="1456.7" y1="559.9" y2="559.9"/><use href="#mx" x="1442.8" y="559.9"/>
<line class="s d" stroke="#B22222" x1="1429" x2="1456.7" y1="580.2" y2="580.2"/><use href="#mn" x="1442.8" y="580.2"/>
<line class="s d" stroke="#DAA520" x1="1429" x2="1456.7" y1="600.5" y2="600.5"/><use href="#mg" x="1442.8" y="600.5"/>
<line class="s d" stroke="#808080" x1="1429" x2="1456.7" y1="620.8" y2="620.8"/>
<g class="t">
<text x="1467.3" y="503.6">Ours</text><text x="1467.3" y="523.9">CDC[42]</text><text x="1467.3" y="544.2">DIRAC[11]</text><text x="1467.3" y="564.5">HiFiC[28]</text><text x="1467.3" y="584.8">NSC[40]</text><text x="1467.3" y="605.1">DGML[9]</text><text x="1467.3" y="625.4">VTM</text>
</g>
<text class="ti" x="1323.8" y="466.7" text-anchor="middle" textLength="147.7" lengthAdjust="spacingAndGlyphs">LPIPS [↓] [CLIC]</text>
<text class="xl" x="1343" y="867" text-anchor="middle">bpp</text>
</svg>
</body></html>
